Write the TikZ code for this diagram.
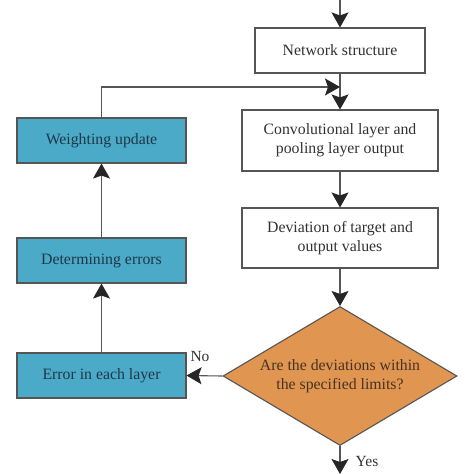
\documentclass[tikz,border=0pt]{standalone}
\usepackage{fontspec}
\setmainfont{Liberation Serif}
\usetikzlibrary{shapes.geometric,arrows.meta}
\definecolor{boxblue}{RGB}{74,170,200}
\definecolor{diaor}{RGB}{224,150,80}
\definecolor{linegrey}{RGB}{85,85,85}
\definecolor{txtgrey}{RGB}{50,50,50}
\definecolor{txtblue}{RGB}{30,55,70}
\definecolor{txtbrown}{RGB}{70,50,35}
\tikzset{
  whitebox/.style={draw=linegrey, line width=1.1pt, fill=white, text=txtgrey, align=center, inner sep=0pt, font=\fontsize{15.8}{19}\selectfont},
  bluebox/.style={draw=linegrey, line width=1.1pt, fill=boxblue, text=txtblue, align=center, inner sep=0pt, minimum width=169pt, minimum height=45pt, font=\fontsize{15.8}{19}\selectfont},
  decision/.style={diamond, draw=linegrey, line width=1.1pt, fill=diaor, text=txtbrown, align=center, inner sep=0pt, aspect=1.68, minimum width=234pt, minimum height=139pt, font=\fontsize{15.8}{19}\selectfont},
  conn/.style={draw=linegrey, line width=1.1pt, -{Stealth[length=15pt,width=17pt,inset=3pt,fill=black!85,color=black!85]}},
  lbl/.style={text=txtgrey, font=\fontsize{15.5}{17}\selectfont, inner sep=0pt}
}
\begin{document}
\begin{tikzpicture}[x=1pt,y=-1pt]
\useasboundingbox (0,0) rectangle (474,474);
\node[whitebox, minimum width=170pt, minimum height=45pt] (net) at (340,50.5) {Network structure};
\node[whitebox, minimum width=196pt, minimum height=61pt] (conv) at (340,140.5) {Convolutional layer and\\pooling layer output};
\node[whitebox, minimum width=196pt, minimum height=60pt] (dev) at (340,238) {Deviation of target and\\output values};
\node[decision] (dec) at (340,376) {Are the deviations within\\the specified limits?};
\node[bluebox] (wu) at (101.5,140.5) {Weighting update};
\node[bluebox] (de) at (101.5,260.5) {Determining errors};
\node[bluebox] (el) at (101.5,375.5) {Error in each layer};
\coordinate (top) at (340,0);
\coordinate (bot) at (340,474);
\coordinate (join) at (340,87);
\draw[conn] (top) -- (net.north);
\draw[conn] (net.south) -- (conv.north);
\draw[conn] (conv.south) -- (dev.north);
\draw[conn] (dev.south) -- (dec.north);
\draw[conn] (dec.south) -- (bot);
\draw[conn] (dec.west) -- (el.east);
\draw[conn] (el.north) -- (de.south);
\draw[conn] (de.north) -- (wu.south);
\draw[conn] (wu.north) |- (join);
\node[lbl] (no) at (200,356) {No};
\node[lbl] (yes) at (367,461) {Yes};
\end{tikzpicture}
\end{document}
